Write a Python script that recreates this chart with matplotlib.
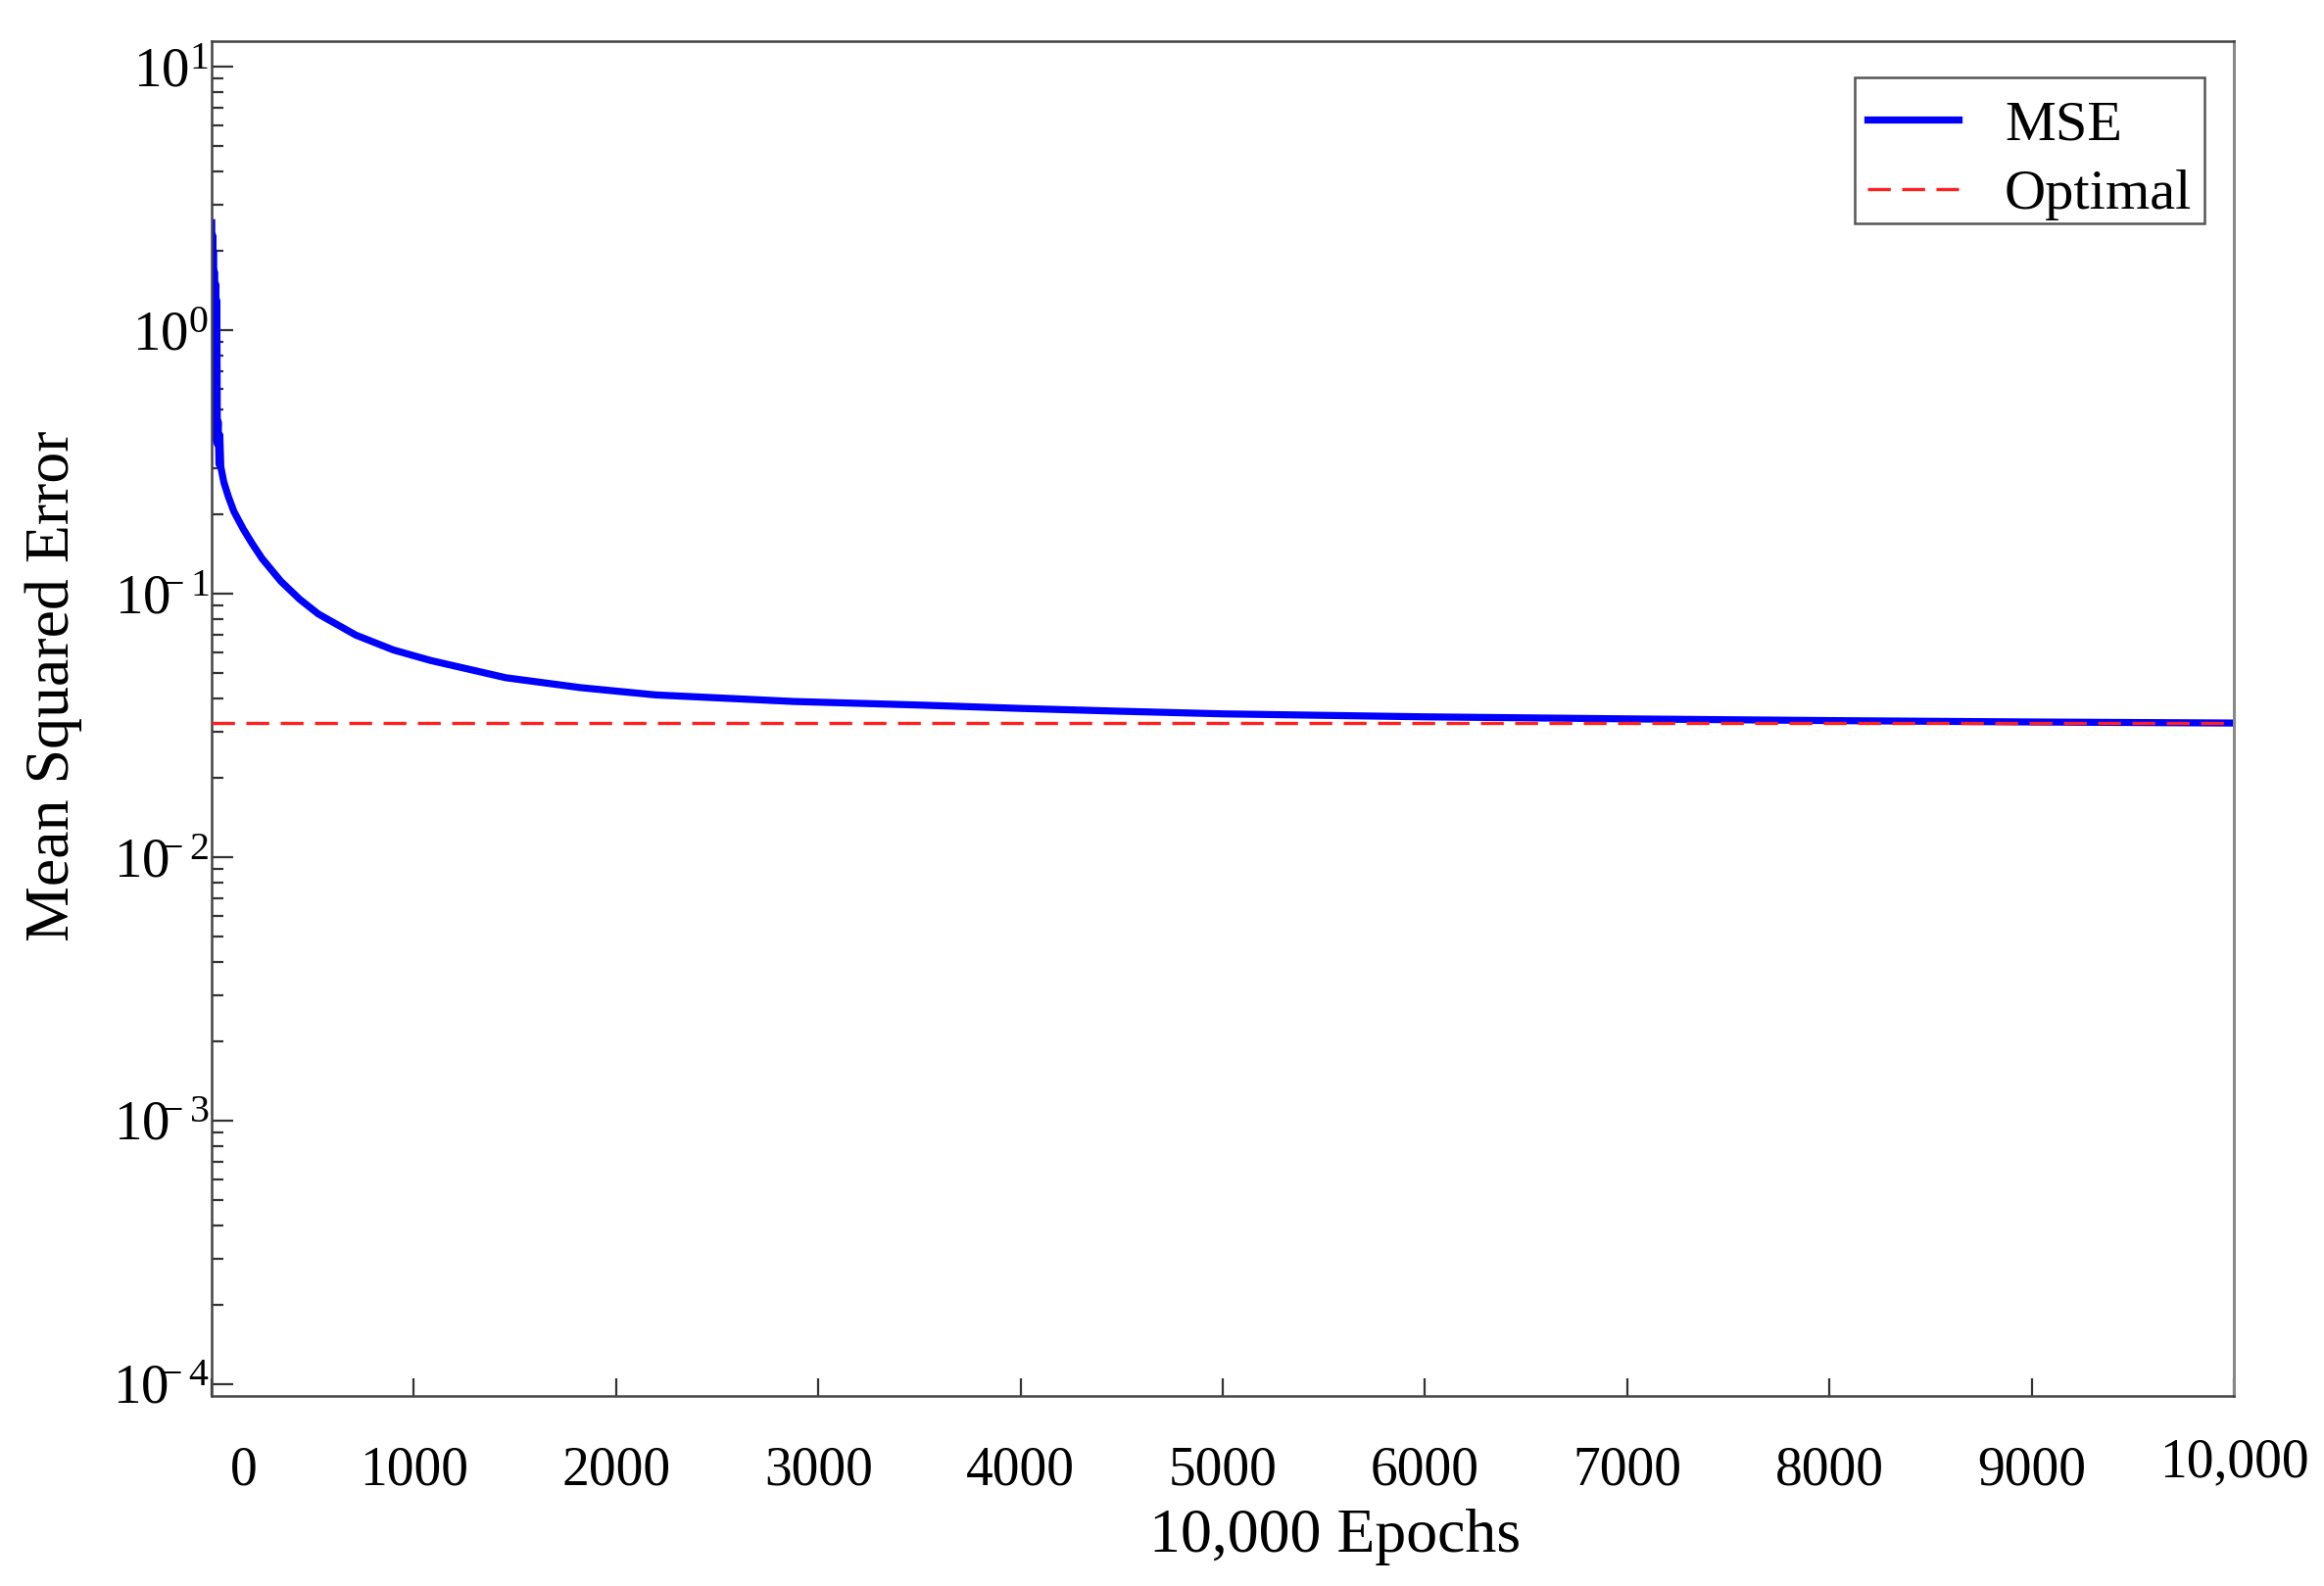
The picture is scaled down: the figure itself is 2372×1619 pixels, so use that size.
import matplotlib
matplotlib.use('Agg')
import matplotlib.pyplot as plt
from matplotlib.ticker import LogLocator, NullFormatter, FixedLocator
from matplotlib.transforms import ScaledTranslation

plt.rcParams['font.family'] = ['Liberation Serif', 'DejaVu Serif']
plt.rcParams['mathtext.fontset'] = 'custom'
plt.rcParams['mathtext.rm'] = 'Liberation Serif'
plt.rcParams['mathtext.it'] = 'Liberation Serif:italic'
plt.rcParams['mathtext.bf'] = 'Liberation Serif:bold'

# training curve
epochs = [0, 2, 4, 6, 8, 10, 13, 16, 19, 22, 25, 28, 32, 36, 40, 45,
          60, 82, 110, 156, 200, 249, 342, 435, 527, 712, 898, 1083, 1454,
          1825, 2195, 2878, 3500, 4000, 4500, 5000, 6000, 7000, 8000, 9000,
          10000]
mse = [2.56, 0.50, 2.30, 0.52, 2.00, 0.50, 1.67, 0.40, 1.50, 0.38, 1.30, 0.37,
       0.45, 0.31, 0.40, 0.303,
       0.265, 0.234, 0.205, 0.176, 0.155, 0.136, 0.1115, 0.0953, 0.0838,
       0.0697, 0.0612, 0.0558, 0.0480, 0.0440, 0.0413, 0.0390, 0.0378,
       0.0367, 0.0358, 0.0350, 0.0341, 0.0335, 0.0330, 0.0326, 0.0323]
optimal = 0.0323

xticks = [0, 1000, 2000, 3000, 4000, 5000, 6000, 7000, 8000, 9000, 10000]
xtick_labels = ['0', '1000', '2000', '3000', '4000', '5000', '6000', '7000',
                '8000', '9000', '10,000']
yticks = [1e-4, 1e-3, 1e-2, 1e-1, 1e0, 1e1]
# the original squeezes the minus sign over the last digit
ytick_labels = [r'$10^{\!\!\!-4}$', r'$10^{\!\!\!-3}$', r'$10^{\!\!\!-2}$',
                r'$10^{\!\!\!-1}$', r'$10^{0}$', r'$10^{1}$']

fig = plt.figure(figsize=(11.86, 8.095), dpi=200)
ax = fig.add_axes([0.0911, 0.1198, 0.8701, 0.8542])

ax.plot(epochs, mse, color='#0000ff', lw=2.6, label='MSE', zorder=2,
        solid_joinstyle='round')
ax.axhline(optimal, color='#ff2020', lw=1.2, ls=(0, (7, 3.5)),
           label='Optimal', zorder=3)

ax.set_yscale('log')
ax.set_xlim(0, 10000)
ax.set_ylim(10 ** -4.045, 10 ** 1.097)

ax.xaxis.set_major_locator(FixedLocator(xticks))
ax.set_xticklabels(xtick_labels)
ax.yaxis.set_major_locator(FixedLocator(yticks))
ax.set_yticklabels(ytick_labels)
ax.yaxis.set_minor_locator(LogLocator(base=10, subs=range(2, 10), numticks=20))
ax.yaxis.set_minor_formatter(NullFormatter())

ax.tick_params(axis='x', which='major', direction='in', length=6.5, width=0.8,
               color='#333333', labelsize=20, pad=18, top=False)
ax.tick_params(axis='y', which='major', direction='in', length=8, width=0.8,
               color='#333333', labelsize=20.5, pad=1, right=False)
ax.tick_params(axis='y', which='minor', direction='in', length=4.2, width=0.8,
               color='#333333', right=False)

# shift the "0" label right and lift "10,000" a little, as in the original
lbls = ax.get_xticklabels()
lbls[0].set_transform(lbls[0].get_transform() +
                      ScaledTranslation(0.165, 0, fig.dpi_scale_trans))
lbls[-1].set_transform(lbls[-1].get_transform() +
                       ScaledTranslation(0, 0.04, fig.dpi_scale_trans))

for side in ['left', 'bottom', 'top']:
    ax.spines[side].set_color('#444444')
    ax.spines[side].set_linewidth(0.9)
ax.spines['right'].set_color('#888888')
ax.spines['right'].set_linewidth(1.1)

ax.set_xlabel('10,000 Epochs', fontsize=23)
ax.set_ylabel('Mean Squared Error', fontsize=23)
ax.xaxis.set_label_coords(0.5557, -0.083)
ax.yaxis.set_label_coords(-0.064, 0.524)

leg = ax.legend(loc='upper right', bbox_to_anchor=(0.9855, 0.9733),
                borderaxespad=0, fontsize=21, fancybox=False,
                handlelength=1.6, handletextpad=0.8, labelspacing=0.3,
                borderpad=0.22, framealpha=1)
leg.get_frame().set_edgecolor('#555555')
leg.get_frame().set_linewidth(0.9)
# rows sit a bit low inside the box in the original
drop = ScaledTranslation(0, -0.05, fig.dpi_scale_trans)
for t in leg.get_texts():
    t.set_transform(t.get_transform() + drop)
for ln in leg.get_lines():
    ln.set_transform(ln.get_transform() + drop)

plt.savefig('out.png', dpi=200)
plt.close(fig)
